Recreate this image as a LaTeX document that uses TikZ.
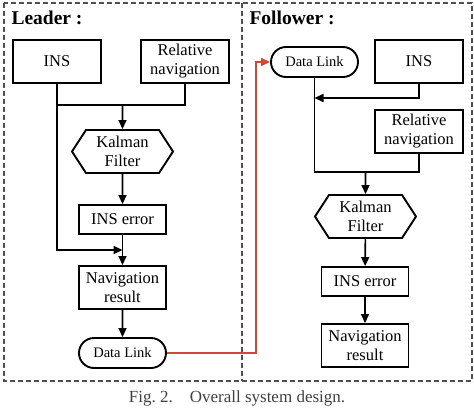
\documentclass[tikz,border=0pt]{standalone}
\usepackage{fontspec}
\setmainfont{Liberation Serif}
\usepackage{tikz}
\usetikzlibrary{positioning, arrows.meta, shapes.symbols, shapes.misc}

\definecolor{framegray}{RGB}{80,80,80}
\definecolor{linkred}{RGB}{210,72,55}

\begin{document}
\begin{tikzpicture}[
    x=1pt, y=-1pt,
    font=\fontsize{16.5}{19}\selectfont,
    box/.style={draw, line width=1.9pt, minimum height=43pt, minimum width=88pt, align=center, inner sep=0pt},
    smallbox/.style={box, minimum height=29pt, minimum width=87pt},
    kalman/.style={draw, line width=1.9pt, signal, signal to=west and east, signal pointer angle=114, minimum height=43pt, minimum width=101pt, align=center, inner sep=0pt},
    linkbox/.style={draw, line width=1.9pt, rounded rectangle, minimum height=30pt, minimum width=87pt, inner sep=0pt},
    title/.style={font=\fontsize{19.5}{22}\selectfont\bfseries, anchor=west},
    frame/.style={framegray, line width=1.3pt, dash pattern=on 5pt off 3pt},
    arrow/.style={-{Triangle[length=9pt, width=8pt]}, line width=1.6pt},
    line/.style={line width=1.6pt},
    link/.style={-{Triangle[length=9pt, width=8pt]}, line width=1.4pt, linkred}
]
\useasboundingbox (0,0) rectangle (474,410);
\draw[frame] (4,3) rectangle (472,381);
\draw[frame] (242,3) -- (242,381);

% leader
\node[title] (ltitle) at (8,18) {Leader :};
\node[box] (lins) at (57,61.5) {INS};
\node[box] (lrel) at (185,61.5) {Relative\\navigation};
\node[kalman] (lkal) at (122.5,151.5) {Kalman\\Filter};
\node[smallbox] (lerr) at (122.5,219.5) {INS error};
\node[box, minimum width=87pt] (lnav) at (122.5,287.5) {Navigation\\result};
\node[linkbox] (llink) at (122.5,353) {\fontsize{14.5}{17}\selectfont Data Link};
\coordinate (lsplit) at (122.5,105);
\coordinate (lmerge) at (122.5,250);
\draw[line] (lrel.south) |- (lins.south |- lsplit);
\draw[arrow] (lins.south) |- (lmerge);
\draw[arrow] (lsplit) -- (lkal);
\draw[arrow] (lkal) -- (lerr);
\draw[arrow] (lerr) -- (lnav);
\draw[arrow] (lnav) -- (llink);

% follower
\node[title] (ftitle) at (246,18) {Follower :};
\node[linkbox] (flink) at (314.5,62) {\fontsize{14.5}{17}\selectfont Data Link};
\node[box] (fins) at (419,61.5) {INS};
\node[box] (frel) at (419,131.5) {Relative\\navigation};
\node[kalman] (fkal) at (365.5,216.5) {Kalman\\Filter};
\node[smallbox] (ferr) at (365,281.5) {INS error};
\node[box, minimum width=87pt] (fnav) at (365,345.5) {Navigation\\result};
\coordinate (fjoin) at (314.5,98);
\coordinate (fsplit) at (365.5,172);
\draw[arrow] (fins.south) |- (fjoin);
\draw[line] (flink.south) |- (fsplit -| frel.south) -- (frel.south);
\draw[arrow] (fsplit) -- (fkal);
\draw[arrow] (fkal) -- (ferr);
\draw[arrow] (ferr) -- (fnav);

% data link between the two
\coordinate (rx) at (256,0);
\draw[link] (llink.east) -- (llink.east -| rx) |- (flink.west);

\node[text=black!75, font=\fontsize{17}{20}\selectfont] (cap) at (237,398) {Fig.~2.\quad Overall system design.};
\end{tikzpicture}
\end{document}
